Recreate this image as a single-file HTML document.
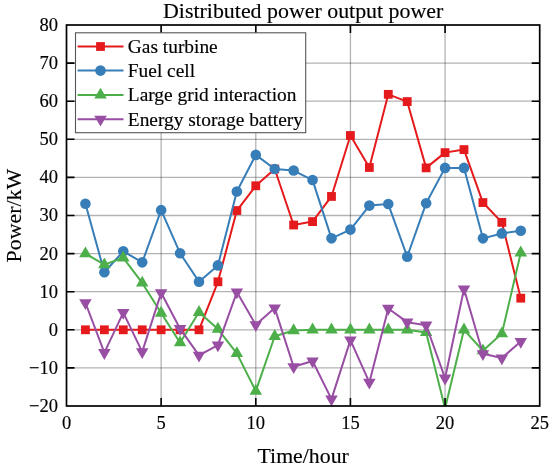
<!DOCTYPE html><html><head><meta charset="utf-8"><style>html,body{margin:0;padding:0;background:#fff;}svg{display:block;}text{font-family:"Liberation Serif","Times New Roman",serif;fill:#000;stroke:#000;stroke-width:0.15px;}</style></head><body>
<svg width="550" height="466" viewBox="0 0 550 466">
<rect width="550" height="466" fill="#fff"/>
<g stroke="#262626" stroke-opacity="0.35" stroke-width="1.3"><line x1="161.14" y1="25.0" x2="161.14" y2="406.0"/><line x1="255.78" y1="25.0" x2="255.78" y2="406.0"/><line x1="350.42" y1="25.0" x2="350.42" y2="406.0"/><line x1="445.06" y1="25.0" x2="445.06" y2="406.0"/><line x1="66.5" y1="367.90" x2="539.7" y2="367.90"/><line x1="66.5" y1="329.80" x2="539.7" y2="329.80"/><line x1="66.5" y1="291.70" x2="539.7" y2="291.70"/><line x1="66.5" y1="253.60" x2="539.7" y2="253.60"/><line x1="66.5" y1="215.50" x2="539.7" y2="215.50"/><line x1="66.5" y1="177.40" x2="539.7" y2="177.40"/><line x1="66.5" y1="139.30" x2="539.7" y2="139.30"/><line x1="66.5" y1="101.20" x2="539.7" y2="101.20"/><line x1="66.5" y1="63.10" x2="539.7" y2="63.10"/></g>
<defs><clipPath id="cp"><rect x="66.5" y="25.0" width="473.20000000000005" height="381.0"/></clipPath></defs>
<g clip-path="url(#cp)">
<polyline points="85.43,329.80 104.36,329.80 123.28,329.80 142.21,329.80 161.14,329.80 180.07,329.80 199.00,329.80 217.92,281.79 236.85,210.55 255.78,185.78 274.71,169.02 293.64,225.03 312.56,221.60 331.49,196.45 350.42,135.49 369.35,167.49 388.28,94.34 407.20,101.58 426.13,167.88 445.06,152.63 463.99,149.59 482.92,202.55 501.84,222.36 520.77,298.18" fill="none" stroke="#e41a1c" stroke-width="2.0" stroke-linejoin="round"/><rect x="81.03" y="325.40" width="8.8" height="8.8" fill="#e41a1c"/><rect x="99.96" y="325.40" width="8.8" height="8.8" fill="#e41a1c"/><rect x="118.88" y="325.40" width="8.8" height="8.8" fill="#e41a1c"/><rect x="137.81" y="325.40" width="8.8" height="8.8" fill="#e41a1c"/><rect x="156.74" y="325.40" width="8.8" height="8.8" fill="#e41a1c"/><rect x="175.67" y="325.40" width="8.8" height="8.8" fill="#e41a1c"/><rect x="194.60" y="325.40" width="8.8" height="8.8" fill="#e41a1c"/><rect x="213.52" y="277.39" width="8.8" height="8.8" fill="#e41a1c"/><rect x="232.45" y="206.15" width="8.8" height="8.8" fill="#e41a1c"/><rect x="251.38" y="181.38" width="8.8" height="8.8" fill="#e41a1c"/><rect x="270.31" y="164.62" width="8.8" height="8.8" fill="#e41a1c"/><rect x="289.24" y="220.62" width="8.8" height="8.8" fill="#e41a1c"/><rect x="308.16" y="217.20" width="8.8" height="8.8" fill="#e41a1c"/><rect x="327.09" y="192.05" width="8.8" height="8.8" fill="#e41a1c"/><rect x="346.02" y="131.09" width="8.8" height="8.8" fill="#e41a1c"/><rect x="364.95" y="163.09" width="8.8" height="8.8" fill="#e41a1c"/><rect x="383.88" y="89.94" width="8.8" height="8.8" fill="#e41a1c"/><rect x="402.80" y="97.18" width="8.8" height="8.8" fill="#e41a1c"/><rect x="421.73" y="163.47" width="8.8" height="8.8" fill="#e41a1c"/><rect x="440.66" y="148.23" width="8.8" height="8.8" fill="#e41a1c"/><rect x="459.59" y="145.19" width="8.8" height="8.8" fill="#e41a1c"/><rect x="478.52" y="198.15" width="8.8" height="8.8" fill="#e41a1c"/><rect x="497.44" y="217.96" width="8.8" height="8.8" fill="#e41a1c"/><rect x="516.37" y="293.78" width="8.8" height="8.8" fill="#e41a1c"/>
<polyline points="85.43,203.69 104.36,272.27 123.28,251.31 142.21,262.36 161.14,210.17 180.07,253.22 199.00,281.79 217.92,265.41 236.85,191.50 255.78,154.92 274.71,169.02 293.64,170.54 312.56,180.07 331.49,238.36 350.42,229.60 369.35,205.59 388.28,204.07 407.20,256.65 426.13,203.31 445.06,167.88 463.99,167.88 482.92,238.36 501.84,233.41 520.77,230.74" fill="none" stroke="#377eb8" stroke-width="2.0" stroke-linejoin="round"/><circle cx="85.43" cy="203.69" r="5.3" fill="#377eb8"/><circle cx="104.36" cy="272.27" r="5.3" fill="#377eb8"/><circle cx="123.28" cy="251.31" r="5.3" fill="#377eb8"/><circle cx="142.21" cy="262.36" r="5.3" fill="#377eb8"/><circle cx="161.14" cy="210.17" r="5.3" fill="#377eb8"/><circle cx="180.07" cy="253.22" r="5.3" fill="#377eb8"/><circle cx="199.00" cy="281.79" r="5.3" fill="#377eb8"/><circle cx="217.92" cy="265.41" r="5.3" fill="#377eb8"/><circle cx="236.85" cy="191.50" r="5.3" fill="#377eb8"/><circle cx="255.78" cy="154.92" r="5.3" fill="#377eb8"/><circle cx="274.71" cy="169.02" r="5.3" fill="#377eb8"/><circle cx="293.64" cy="170.54" r="5.3" fill="#377eb8"/><circle cx="312.56" cy="180.07" r="5.3" fill="#377eb8"/><circle cx="331.49" cy="238.36" r="5.3" fill="#377eb8"/><circle cx="350.42" cy="229.60" r="5.3" fill="#377eb8"/><circle cx="369.35" cy="205.59" r="5.3" fill="#377eb8"/><circle cx="388.28" cy="204.07" r="5.3" fill="#377eb8"/><circle cx="407.20" cy="256.65" r="5.3" fill="#377eb8"/><circle cx="426.13" cy="203.31" r="5.3" fill="#377eb8"/><circle cx="445.06" cy="167.88" r="5.3" fill="#377eb8"/><circle cx="463.99" cy="167.88" r="5.3" fill="#377eb8"/><circle cx="482.92" cy="238.36" r="5.3" fill="#377eb8"/><circle cx="501.84" cy="233.41" r="5.3" fill="#377eb8"/><circle cx="520.77" cy="230.74" r="5.3" fill="#377eb8"/>
<polyline points="85.43,253.60 104.36,264.65 123.28,257.79 142.21,282.94 161.14,313.04 180.07,342.75 199.00,312.27 217.92,329.04 236.85,353.42 255.78,391.14 274.71,336.28 293.64,330.56 312.56,329.80 331.49,329.80 350.42,329.80 369.35,329.80 388.28,329.80 407.20,329.80 426.13,332.47 445.06,408.29 463.99,329.80 482.92,350.75 501.84,333.61 520.77,252.84" fill="none" stroke="#4daf4a" stroke-width="2.0" stroke-linejoin="round"/><polygon points="85.43,246.38 79.18,257.21 91.68,257.21" fill="#4daf4a"/><polygon points="104.36,257.43 98.11,268.26 110.61,268.26" fill="#4daf4a"/><polygon points="123.28,250.57 117.03,261.40 129.53,261.40" fill="#4daf4a"/><polygon points="142.21,275.72 135.96,286.55 148.46,286.55" fill="#4daf4a"/><polygon points="161.14,305.82 154.89,316.64 167.39,316.64" fill="#4daf4a"/><polygon points="180.07,335.54 173.82,346.36 186.32,346.36" fill="#4daf4a"/><polygon points="199.00,305.06 192.75,315.88 205.25,315.88" fill="#4daf4a"/><polygon points="217.92,321.82 211.67,332.65 224.17,332.65" fill="#4daf4a"/><polygon points="236.85,346.21 230.60,357.03 243.10,357.03" fill="#4daf4a"/><polygon points="255.78,383.92 249.53,394.75 262.03,394.75" fill="#4daf4a"/><polygon points="274.71,329.06 268.46,339.89 280.96,339.89" fill="#4daf4a"/><polygon points="293.64,323.35 287.39,334.17 299.89,334.17" fill="#4daf4a"/><polygon points="312.56,322.58 306.31,333.41 318.81,333.41" fill="#4daf4a"/><polygon points="331.49,322.58 325.24,333.41 337.74,333.41" fill="#4daf4a"/><polygon points="350.42,322.58 344.17,333.41 356.67,333.41" fill="#4daf4a"/><polygon points="369.35,322.58 363.10,333.41 375.60,333.41" fill="#4daf4a"/><polygon points="388.28,322.58 382.03,333.41 394.53,333.41" fill="#4daf4a"/><polygon points="407.20,322.58 400.95,333.41 413.45,333.41" fill="#4daf4a"/><polygon points="426.13,325.25 419.88,336.08 432.38,336.08" fill="#4daf4a"/><polygon points="463.99,322.58 457.74,333.41 470.24,333.41" fill="#4daf4a"/><polygon points="482.92,343.54 476.67,354.36 489.17,354.36" fill="#4daf4a"/><polygon points="501.84,326.39 495.59,337.22 508.09,337.22" fill="#4daf4a"/><polygon points="520.77,245.62 514.52,256.45 527.02,256.45" fill="#4daf4a"/>
<polyline points="85.43,302.75 104.36,352.66 123.28,312.65 142.21,351.90 161.14,292.84 180.07,328.66 199.00,355.33 217.92,345.04 236.85,292.08 255.78,324.85 274.71,308.08 293.64,366.76 312.56,361.04 331.49,399.14 350.42,340.09 369.35,382.38 388.28,308.46 407.20,322.18 426.13,325.23 445.06,378.19 463.99,289.03 482.92,353.80 501.84,357.99 520.77,341.61" fill="none" stroke="#984ea3" stroke-width="2.0" stroke-linejoin="round"/><polygon points="85.43,309.97 79.18,299.14 91.68,299.14" fill="#984ea3"/><polygon points="104.36,359.88 98.11,349.05 110.61,349.05" fill="#984ea3"/><polygon points="123.28,319.87 117.03,309.05 129.53,309.05" fill="#984ea3"/><polygon points="142.21,359.11 135.96,348.29 148.46,348.29" fill="#984ea3"/><polygon points="161.14,300.06 154.89,289.23 167.39,289.23" fill="#984ea3"/><polygon points="180.07,335.87 173.82,325.05 186.32,325.05" fill="#984ea3"/><polygon points="199.00,362.54 192.75,351.72 205.25,351.72" fill="#984ea3"/><polygon points="217.92,352.26 211.67,341.43 224.17,341.43" fill="#984ea3"/><polygon points="236.85,299.30 230.60,288.47 243.10,288.47" fill="#984ea3"/><polygon points="255.78,332.06 249.53,321.24 262.03,321.24" fill="#984ea3"/><polygon points="274.71,315.30 268.46,304.47 280.96,304.47" fill="#984ea3"/><polygon points="293.64,373.97 287.39,363.15 299.89,363.15" fill="#984ea3"/><polygon points="312.56,368.26 306.31,357.43 318.81,357.43" fill="#984ea3"/><polygon points="331.49,406.36 325.24,395.53 337.74,395.53" fill="#984ea3"/><polygon points="350.42,347.30 344.17,336.48 356.67,336.48" fill="#984ea3"/><polygon points="369.35,389.59 363.10,378.77 375.60,378.77" fill="#984ea3"/><polygon points="388.28,315.68 382.03,304.86 394.53,304.86" fill="#984ea3"/><polygon points="407.20,329.40 400.95,318.57 413.45,318.57" fill="#984ea3"/><polygon points="426.13,332.44 419.88,321.62 432.38,321.62" fill="#984ea3"/><polygon points="445.06,385.40 438.81,374.58 451.31,374.58" fill="#984ea3"/><polygon points="463.99,296.25 457.74,285.42 470.24,285.42" fill="#984ea3"/><polygon points="482.92,361.02 476.67,350.19 489.17,350.19" fill="#984ea3"/><polygon points="501.84,365.21 495.59,354.39 508.09,354.39" fill="#984ea3"/><polygon points="520.77,348.83 514.52,338.00 527.02,338.00" fill="#984ea3"/>
</g>
<path d="M161.14,406.0v-8M161.14,25.0v8M255.78,406.0v-8M255.78,25.0v8M350.42,406.0v-8M350.42,25.0v8M445.06,406.0v-8M445.06,25.0v8M66.5,367.90h8M539.7,367.90h-8M66.5,329.80h8M539.7,329.80h-8M66.5,291.70h8M539.7,291.70h-8M66.5,253.60h8M539.7,253.60h-8M66.5,215.50h8M539.7,215.50h-8M66.5,177.40h8M539.7,177.40h-8M66.5,139.30h8M539.7,139.30h-8M66.5,101.20h8M539.7,101.20h-8M66.5,63.10h8M539.7,63.10h-8" stroke="#000" stroke-width="1.6" fill="none"/>
<rect x="66.5" y="25.0" width="473.20" height="381.0" fill="none" stroke="#000" stroke-width="1.7"/>
<text x="66.50" y="429" font-size="18.5" text-anchor="middle">0</text>
<text x="161.14" y="429" font-size="18.5" text-anchor="middle">5</text>
<text x="255.78" y="429" font-size="18.5" text-anchor="middle">10</text>
<text x="350.42" y="429" font-size="18.5" text-anchor="middle">15</text>
<text x="445.06" y="429" font-size="18.5" text-anchor="middle">20</text>
<text x="539.70" y="429" font-size="18.5" text-anchor="middle">25</text>
<text x="58" y="411.90" font-size="18.5" text-anchor="end">−20</text>
<text x="58" y="373.80" font-size="18.5" text-anchor="end">−10</text>
<text x="58" y="335.70" font-size="18.5" text-anchor="end">0</text>
<text x="58" y="297.60" font-size="18.5" text-anchor="end">10</text>
<text x="58" y="259.50" font-size="18.5" text-anchor="end">20</text>
<text x="58" y="221.40" font-size="18.5" text-anchor="end">30</text>
<text x="58" y="183.30" font-size="18.5" text-anchor="end">40</text>
<text x="58" y="145.20" font-size="18.5" text-anchor="end">50</text>
<text x="58" y="107.10" font-size="18.5" text-anchor="end">60</text>
<text x="58" y="69.00" font-size="18.5" text-anchor="end">70</text>
<text x="58" y="30.90" font-size="18.5" text-anchor="end">80</text>
<text x="303.2" y="17.7" font-size="21.9" text-anchor="middle">Distributed power output power</text>
<text x="303.2" y="462.6" font-size="21.8" text-anchor="middle">Time/hour</text>
<text transform="translate(20.6,215.6) rotate(-90)" font-size="21.9" text-anchor="middle">Power/kW</text>
<rect x="75.5" y="32.8" width="230.20" height="99.90" fill="#fff" stroke="#555" stroke-width="1.1"/>
<line x1="77.6" y1="46.5" x2="123.5" y2="46.5" stroke="#e41a1c" stroke-width="2.0"/>
<rect x="96.10" y="42.10" width="8.8" height="8.8" fill="#e41a1c"/>
<text x="127.8" y="52.70" font-size="19.4">Gas turbine</text>
<line x1="77.6" y1="70.6" x2="123.5" y2="70.6" stroke="#377eb8" stroke-width="2.0"/>
<circle cx="100.50" cy="70.60" r="5.3" fill="#377eb8"/>
<text x="127.8" y="76.80" font-size="19.4">Fuel cell</text>
<line x1="77.6" y1="95.0" x2="123.5" y2="95.0" stroke="#4daf4a" stroke-width="2.0"/>
<polygon points="100.50,87.78 94.25,98.61 106.75,98.61" fill="#4daf4a"/>
<text x="127.8" y="101.20" font-size="19.4">Large grid interaction</text>
<line x1="77.6" y1="119.3" x2="123.5" y2="119.3" stroke="#984ea3" stroke-width="2.0"/>
<polygon points="100.50,126.52 94.25,115.69 106.75,115.69" fill="#984ea3"/>
<text x="127.8" y="125.50" font-size="19.4">Energy storage battery</text>
</svg></body></html>
